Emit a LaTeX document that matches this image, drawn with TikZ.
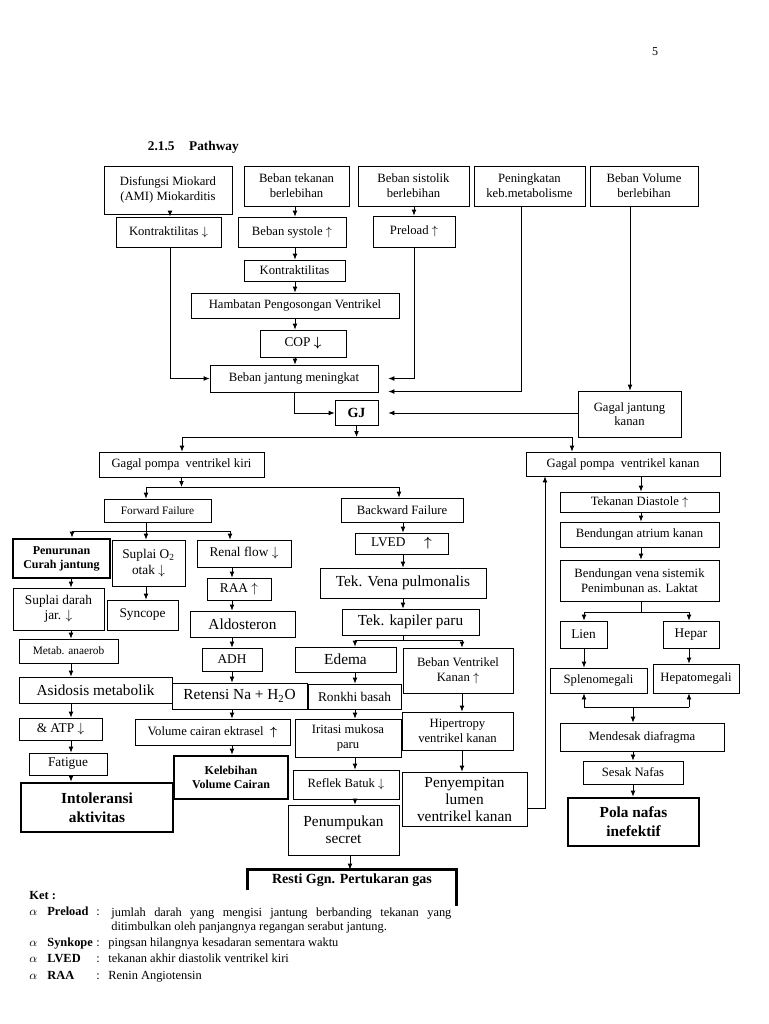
\documentclass[tikz,border=0pt]{standalone}
\usepackage{fontspec}
\setmainfont{Liberation Serif}
\usetikzlibrary{arrows.meta}
\begin{document}
\begin{tikzpicture}[x=0.75pt, y=-0.75pt, line width=0.6pt, >={Latex[length=4.5pt,width=3.6pt]},
	box/.style={draw, align=center, inner sep=1pt, font=\fontsize{9.5}{11}\selectfont},
	small/.style={font=\fontsize{8.5}{10}\selectfont},
	mid/.style={font=\fontsize{10}{11.5}\selectfont},
	big/.style={font=\fontsize{11.5}{12.75}\selectfont},
	heavy/.style={line width=2pt},
	hmid/.style={font=\bfseries\fontsize{9}{10.5}\selectfont},
	hbig/.style={font=\bfseries\fontsize{11.5}{14}\selectfont},
	ket/.style={font=\fontsize{9.3}{10.5}\selectfont, inner sep=0pt},
	bw/.style={minimum width=#1*0.75pt},
	bh/.style={minimum height=#1*0.75pt}]
	\useasboundingbox (0,0) rectangle (768,1024);

	\node[font=\fontsize{9}{10}\selectfont] (hal) at (655,52) {5};
	\node[anchor=west, font=\bfseries\fontsize{10}{12}\selectfont] (judul) at (143,147) {2.1.5\hspace{11pt}Pathway};

	% baris atas
	\node[box, bw=128, bh=48] (disf) at (168,190) {Disfungsi Miokard\\(AMI) Miokarditis};
	\node[box, bw=105, bh=40] (btek) at (296.5,186) {Beban tekanan\\berlebihan};
	\node[box, bw=111, bh=40] (bsis) at (413.5,186) {Beban sistolik\\berlebihan};
	\node[box, bw=111, bh=40] (pkeb) at (529.5,186) {Peningkatan\\keb.metabolisme};
	\node[box, bw=108, bh=40] (bvol) at (644,186) {Beban Volume\\berlebihan};

	\node[box, bw=105, bh=30] (kontra) at (168.5,232) {Kontraktilitas $\downarrow$};
	\node[box, bw=108, bh=30] (bsys) at (292,232) {Beban systole $\uparrow$};
	\node[box, bw=82, bh=31] (pre) at (414,231.5) {Preload $\uparrow$};
	\node[box, bw=101, bh=21] (kontr) at (294.5,270.5) {Kontraktilitas};
	\node[box, bw=208, bh=25] (hamb) at (295,305.5) {Hambatan Pengosongan Ventrikel};
	\node[box, mid, bw=86, bh=27] (cop) at (303,343.5) {COP {\boldmath$\downarrow$}};
	\node[box, bw=168, bh=27] (bjm) at (294,378.5) {Beban jantung meningkat};
	\node[box, font=\bfseries\fontsize{10.5}{12}\selectfont, bw=43, bh=25] (gj) at (356.5,413) {GJ};
	\node[box, bw=103, bh=46] (gjk) at (629.5,414) {Gagal jantung\\kanan};

	\node[box, bw=165, bh=25] (gpki) at (181.5,464.5) {Gagal pompa\ \ ventrikel kiri};
	\node[box, bw=194, bh=24] (gpka) at (623,464) {Gagal pompa\ \ ventrikel kanan};
	\node[box, small, bw=107, bh=23] (ff) at (157.5,510.5) {Forward Failure};
	\node[box, bw=122, bh=24] (bf) at (402,510) {Backward Failure};

	% kiri
	\node[box, heavy, hmid, bw=97, bh=39] (penu) at (61.5,558.5) {Penurunan\\Curah jantung};
	\node[box, mid, bw=73, bh=46] (o2) at (148.5,563) {Suplai O\textsubscript{2}\\otak $\downarrow$};
	\node[box, mid, bw=94, bh=27] (renal) at (244,553.5) {Renal flow $\downarrow$};
	\node[box, mid, bw=91, bh=42] (sdar) at (58.5,609) {Suplai darah\\jar. $\downarrow$};
	\node[box, mid, bw=71, bh=30] (sync) at (142.5,615) {Syncope};
	\node[box, mid, bw=64, bh=22] (raa) at (239,589) {RAA $\uparrow$};
	\node[box, big, bw=105, bh=26] (aldo) at (242.5,624) {Aldosteron};
	\node[box, small, bw=99, bh=24] (metab) at (68.5,651) {Metab. anaerob};
	\node[box, mid, bw=60, bh=23] (adh) at (232,659.5) {ADH};
	\node[box, big, bw=153, bh=26] (asid) at (95.5,690) {Asidosis metabolik};
	\node[box, big, bw=135, bh=26] (ret) at (239.5,696) {Retensi Na + H\textsubscript{2}O};
	\node[box, mid, bw=83, bh=22] (atp) at (60.5,729) {\& ATP $\downarrow$};
	\node[box, bw=155, bh=26] (vol) at (212.5,732) {Volume cairan ektrasel\hspace{5pt}{\boldmath$\uparrow$}};
	\node[box, mid, bw=78, bh=22] (fat) at (68,764) {Fatigue};
	\node[box, heavy, hmid, bw=114, bh=43] (keleb) at (231,777.5) {Kelebihan\\Volume Cairan};
	\node[box, heavy, hbig, bw=152, bh=49] (intol) at (97,807.5) {Intoleransi\\aktivitas};

	% tengah
	\node[box, mid, bw=93, bh=21] (lved) at (401.5,543.5) {LVED\hspace{14pt}{\boldmath$\uparrow$}};
	\node[box, big, bw=166, bh=30] (tvena) at (403,583) {Tek. Vena pulmonalis};
	\node[box, big, bw=137, bh=26] (tkap) at (410.5,622) {Tek. kapiler paru};
	\node[box, big, bw=101, bh=25] (edema) at (345.5,659.5) {Edema};
	\node[box, bw=110, bh=45] (bvk) at (458,670.5) {Beban Ventrikel\\Kanan $\uparrow$};
	\node[box, mid, bw=93, bh=25] (ronk) at (354.5,696.5) {Ronkhi basah};
	\node[box, bw=106, bh=38] (irit) at (348,738) {Iritasi mukosa\\paru};
	\node[box, bw=111, bh=38] (hiper) at (457.5,731) {Hipertropy\\ventrikel kanan};
	\node[box, bw=106, bh=29] (refl) at (346,784.5) {Reflek Batuk $\downarrow$};
	\node[box, big, bw=125, bh=54] (penyem) at (464.5,799) {Penyempitan\\lumen\\ventrikel kanan};
	\node[box, big, bw=111, bh=50] (penum) at (343.5,830) {Penumpukan\\secret};
	\node[font=\bfseries\fontsize{10.5}{12}\selectfont, bw=208, bh=20, inner sep=0pt] (resti) at (352,880) {Resti Ggn. Pertukaran gas};
	\draw[heavy] (resti.south west) |- (resti.north east) -- ([yshift=-12pt]resti.south east);

	% kanan
	\node[box, bw=159, bh=20] (tdia) at (639.5,502) {Tekanan Diastole $\uparrow$};
	\node[box, bw=159, bh=25] (batr) at (639.5,534.5) {Bendungan atrium kanan};
	\node[box, bw=159, bh=41] (bven) at (639.5,580.5) {Bendungan vena sistemik\\Penimbunan as. Laktat};
	\node[box, mid, bw=47, bh=27] (lien) at (583.5,634.5) {Lien};
	\node[box, mid, bw=56, bh=27] (hepar) at (691,634.5) {Hepar};
	\node[box, bw=97, bh=25] (splen) at (598.5,680.5) {Splenomegali};
	\node[box, bw=86, bh=29] (hepat) at (696,678.5) {Hepatomegali};
	\node[box, bw=164, bh=28] (mend) at (642,737) {Mendesak diafragma};
	\node[box, bw=100, bh=23] (sesak) at (633,772.5) {Sesak Nafas};
	\node[box, heavy, hbig, bw=131, bh=48] (pola) at (633.5,822) {Pola nafas\\inefektif};

	% kolom panah
	\foreach \n/\x in {cK/170, cT/295, cP/414, cV/630, cM/521, cA/71, cB/146, cC/232, cD/403,
		cE/355, cF/462, cG/641, cH/633, cJ/350, cL/584, cR/689}
		\coordinate (\n) at (\x,0);

	\foreach \a/\b/\c in {disf/kontra/cK, btek/bsys/cT, bsys/kontr/cT, kontr/hamb/cT, hamb/cop/cT,
		cop/bjm/cT, bsis/pre/cP, bvol/gjk/cV, penu/sdar/cA, sdar/metab/cA, metab/asid/cA,
		asid/atp/cA, atp/fat/cA, fat/intol/cA, o2/sync/cB, renal/raa/cC, raa/aldo/cC,
		aldo/adh/cC, adh/ret/cC, ret/vol/cC, vol/keleb/cC, bf/lved/cD, lved/tvena/cD,
		tvena/tkap/cD, edema/ronk/cE, ronk/irit/cE, irit/refl/cE, refl/penum/cE,
		penum/resti/cJ, bvk/hiper/cF, hiper/penyem/cF, gpka/tdia/cG, tdia/batr/cG,
		batr/bven/cG, lien/splen/cL, hepar/hepat/cR, mend/sesak/cH, sesak/pola/cH}
		\draw[->] (\a.south -| \c) -- (\b.north -| \c);

	\draw[->] (kontra.south -| cK) |- (bjm.west);
	\draw[->, shorten >=7.5pt] (pre.south -| cP) |- (bjm.east);
	\draw[->, shorten >=7.5pt] (pkeb.south -| cM) |- ([yshift=-9.75pt]bjm.east);
	\draw[->] (bjm.south) |- (gj.west);
	\draw[->, shorten >=7.5pt] (gjk.west |- gj.east) -- (gj.east);

	\coordinate (gjL) at (182,437);
	\coordinate (gjR) at (572,437);
	\draw[->] (gj.south) -- (gj.south |- gjL);
	\draw (gjL) -- (gjR);
	\draw[->] (gjL) -- (gjL |- gpki.north);
	\draw[->] (gjR) -- (gjR |- gpka.north);

	\coordinate (kiL) at (146,487);
	\coordinate (kiR) at (399,487);
	\draw[->] (gpki.south) -- (gpki.south |- kiL);
	\draw (kiL) -- (kiR);
	\draw[->] (kiL) -- (kiL |- ff.north);
	\draw[->] (kiR) -- (kiR |- bf.north);

	\coordinate (ffL) at (72,531);
	\coordinate (ffM) at (146,531);
	\coordinate (ffR) at (230,531);
	\draw (ff.south -| ffM) -- (ffM);
	\draw (ffL) -- (ffR);
	\draw[->] (ffL) -- (ffL |- penu.north);
	\draw[->] (ffM) -- (ffM |- o2.north);
	\draw[->] (ffR) -- (ffR |- renal.north);

	\coordinate (kpL) at (355,640);
	\coordinate (kpR) at (462,640);
	\draw (tkap.south -| cD) -- (cD |- kpL);
	\draw (kpL) -- (kpR);
	\draw[->] (kpL) -- (kpL |- edema.north);
	\draw[->] (kpR) -- (kpR |- bvk.north);

	\coordinate (pyR) at (545,808);
	\draw[->] (penyem.east |- pyR) -| (pyR |- gpka.south);

	\coordinate (bvL) at (584,612);
	\coordinate (bvR) at (689,612);
	\draw (bven.south -| cG) -- (cG |- bvL);
	\draw (bvL) -- (bvR);
	\draw[->] (bvL) -- (bvL |- lien.north);
	\draw[->] (bvR) -- (bvR |- hepar.north);

	\coordinate (mdL) at (584,707);
	\coordinate (mdR) at (689,707);
	\draw (mdL) -- (mdR);
	\draw[->] (mdL) -- (mdL |- splen.south);
	\draw[->] (mdR) -- (mdR |- hepat.south);
	\draw[->] (cH |- mdL) -- (cH |- mend.north);

	% keterangan
	\node[anchor=base west, inner sep=0pt, font=\bfseries\fontsize{9.3}{11}\selectfont] (ketj) at (29,899) {Ket :};
	\foreach \y/\lab/\nm in {915/Preload/kPre, 946/Synkope/kSyn, 962/LVED/kLv, 979/RAA/kRaa} {
		\node[ket, anchor=base west] (\nm-a) at (29,\y) {$\alpha$};
		\node[ket, anchor=base west, font=\bfseries\fontsize{9.3}{11}\selectfont] (\nm) at (47,\y) {\lab};
		\node[ket, anchor=base] (\nm-c) at (98,\y) {:};
	}
	\node[ket, anchor=north west, text width=255pt, align=justify] (kPreT) at (111,907) {jumlah darah yang mengisi jantung berbanding tekanan yang\linebreak ditimbulkan oleh panjangnya regangan serabut jantung.};
	\node[ket, anchor=base west] (kSynT) at (108,946) {pingsan hilangnya kesadaran sementara waktu};
	\node[ket, anchor=base west] (kLvT) at (108,962) {tekanan akhir diastolik ventrikel kiri};
	\node[ket, anchor=base west] (kRaaT) at (108,979) {Renin Angiotensin};
\end{tikzpicture}
\end{document}
